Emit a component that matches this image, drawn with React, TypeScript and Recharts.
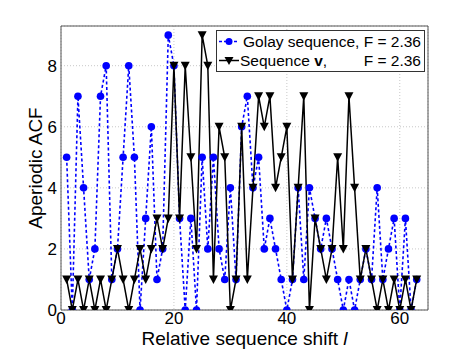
import React from "react";
import {
  CartesianGrid,
  Legend,
  Line,
  LineChart,
  ReferenceArea,
  XAxis,
  YAxis,
} from "recharts";

// relative shift l = 1..63 (length-64 sequences)
const shifts = [
  1, 2, 3, 4, 5, 6, 7, 8, 9, 10, 11, 12, 13, 14, 15, 16, 17, 18, 19, 20, 21,
  22, 23, 24, 25, 26, 27, 28, 29, 30, 31, 32, 33, 34, 35, 36, 37, 38, 39, 40,
  41, 42, 43, 44, 45, 46, 47, 48, 49, 50, 51, 52, 53, 54, 55, 56, 57, 58, 59,
  60, 61, 62, 63,
];

const golay = [
  5, 0, 7, 4, 1, 2, 7, 8, 1, 2, 5, 8, 5, 0, 3, 6, 1, 2, 9, 8, 3, 0, 3, 0, 5,
  2, 5, 2, 1, 4, 1, 6, 7, 4, 5, 2, 3, 2, 1, 0, 1, 4, 1, 4, 3, 2, 3, 2, 1, 0,
  1, 0, 1, 2, 1, 4, 1, 2, 3, 0, 3, 0, 1,
];

const seqV = [
  1, 0, 1, 0, 1, 0, 1, 0, 1, 2, 1, 0, 1, 2, 1, 2, 3, 2, 3, 8, 3, 8, 5, 2, 9,
  8, 1, 6, 5, 0, 1, 6, 1, 4, 7, 6, 7, 4, 5, 6, 1, 4, 7, 0, 3, 2, 1, 2, 5, 2,
  7, 4, 1, 2, 1, 0, 1, 0, 1, 0, 1, 0, 1,
];

const xTicks = [0, 20, 40, 60];
const yTicks = [0, 2, 4, 6, 8];

const data = shifts.map((s, i) => ({ shift: s, golay: golay[i], seqV: seqV[i] }));

const FONT = "'Liberation Sans', Arial, Helvetica, sans-serif";
const BLUE = "#0000ff";

const Triangle = (props: any) => {
  const { cx, cy } = props;
  if (cx == null || cy == null) return null;
  return (
    <path
      d={`M${cx - 4.5},${cy - 4} L${cx + 4.5},${cy - 4} L${cx},${cy + 4.5} Z`}
      fill="#000"
    />
  );
};

const XLabel = (props: any) => {
  const { viewBox } = props;
  const x = viewBox.x + viewBox.width / 2;
  return (
    <text x={x} y={345} textAnchor="middle" fontSize={19} fontFamily={FONT} fill="#000">
      <tspan>Relative sequence shift </tspan>
      <tspan fontStyle="italic">l</tspan>
    </text>
  );
};

const YLabel = (props: any) => {
  const { viewBox } = props;
  const y = viewBox.y + viewBox.height / 2;
  return (
    <text
      x={42}
      y={y}
      transform={`rotate(-90, 42, ${y})`}
      textAnchor="middle"
      fontSize={19}
      fontFamily={FONT}
      fill="#000"
    >
      Aperiodic ACF
    </text>
  );
};

const LegendBox = () => (
  <div
    style={{
      border: "1px solid #333",
      background: "#fff",
      fontFamily: FONT,
      fontSize: 15.5,
      lineHeight: "19px",
      padding: "1px 3px 1px 1px",
      width: 203,
      whiteSpace: "nowrap",
    }}
  >
    <div style={{ display: "flex", alignItems: "center" }}>
      <svg width={22} height={19} style={{ flexShrink: 0 }}>
        <line x1={1} y1={9.5} x2={21} y2={9.5} stroke={BLUE} strokeWidth={1.5} strokeDasharray="3 2" />
        <circle cx={11} cy={9.5} r={3.5} fill={BLUE} />
      </svg>
      <span style={{ flex: 1, textAlign: "right" }}>Golay sequence, F = 2.36</span>
    </div>
    <div style={{ display: "flex", alignItems: "center" }}>
      <svg width={22} height={19} style={{ flexShrink: 0 }}>
        <line x1={1} y1={9.5} x2={21} y2={9.5} stroke="#000" strokeWidth={1.5} />
        <path d="M6.5,6 L15.5,6 L11,14 Z" fill="#000" />
      </svg>
      <span style={{ flex: 1 }}>
        Sequence <b>v</b>,
      </span>
      <span>F = 2.36</span>
    </div>
  </div>
);

export default function App() {
  return (
    <div style={{ position: "absolute", left: 0, top: 0, background: "#fff" }}>
      <LineChart width={474} height={351} data={data} margin={{ top: 26, right: 46, bottom: 0, left: 0 }}>
        <CartesianGrid stroke="#c8c8c8" strokeDasharray="1 2" />
        <XAxis
          type="number"
          dataKey="shift"
          domain={[0, 65]}
          ticks={xTicks}
          allowDataOverflow
          height={41}
          axisLine={false}
          tickLine={false}
          tickSize={0}
          tickMargin={2}
          tick={{ fontSize: 17, fontFamily: FONT, fill: "#000" }}
          label={<XLabel />}
        />
        <YAxis
          type="number"
          domain={[0, 9.3]}
          ticks={yTicks}
          allowDataOverflow
          width={61}
          axisLine={false}
          tickLine={false}
          tickSize={0}
          tickMargin={4}
          tick={{ fontSize: 17, fontFamily: FONT, fill: "#000" }}
          label={<YLabel />}
        />
        <ReferenceArea x1={0} x2={65} y1={0} y2={9.3} fill="none" stroke="#555" strokeWidth={1} />
        <Line
          dataKey="golay"
          stroke={BLUE}
          strokeWidth={1.6}
          strokeDasharray="3 2.5"
          dot={{ r: 3.8, fill: BLUE, stroke: "none" }}
          isAnimationActive={false}
        />
        <Line
          dataKey="seqV"
          stroke="#000"
          strokeWidth={1.5}
          dot={<Triangle />}
          isAnimationActive={false}
        />
        <Legend
          layout="horizontal"
          verticalAlign="middle"
          align="center"
          content={<LegendBox />}
          wrapperStyle={{ top: 30, left: 216, width: "auto" }}
        />
      </LineChart>
    </div>
  );
}
